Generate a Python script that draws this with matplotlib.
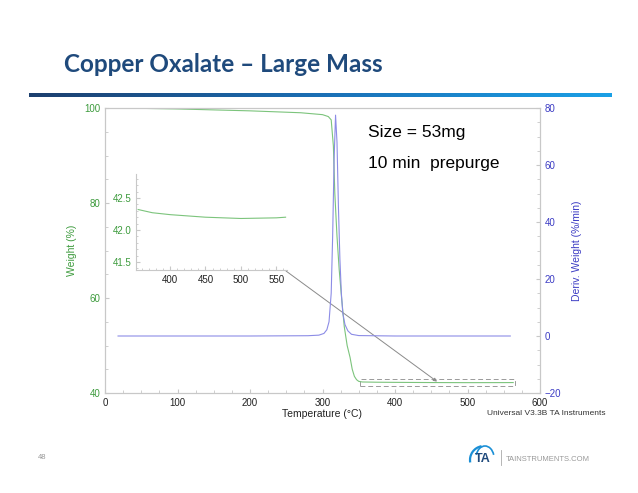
import numpy as np
import matplotlib
matplotlib.use("Agg")
import matplotlib.pyplot as plt
from matplotlib.ticker import MultipleLocator, FormatStrFormatter
from matplotlib.colors import LinearSegmentedColormap
from matplotlib.patches import Rectangle, Arc

# weight curve (%) vs temperature (C)
temp_w = [18, 100, 200, 270, 300, 308, 312, 315, 317, 320, 323, 326, 330, 334, 338,
          341, 344, 347, 350, 355, 375, 400, 450, 500, 550, 563]
weight = [100, 99.8, 99.4, 99.0, 98.6, 98.2, 97.5, 92, 82, 73, 66, 60.6, 54, 50, 47.5,
          45, 43.5, 42.8, 42.45, 42.32, 42.27, 42.24, 42.2, 42.18, 42.19, 42.2]

# derivative weight (%/min)
temp_d = [18, 100, 200, 280, 295, 302, 306, 309, 312, 314, 316, 318, 320, 322, 324,
          326, 328, 331, 335, 340, 350, 400, 500, 559]
deriv = [0, 0, 0, 0.1, 0.3, 0.9, 2.2, 5, 15, 35, 62, 77.5, 68, 45, 27,
         15, 8, 4, 1.8, 0.6, 0.15, 0, 0, 0]

# zoomed region (inset)
zoom_x = (352, 565)
zoom_y = (41.375, 42.875)

GREEN = "#3d9b3d"
BLUE = "#3c3cc4"
LGREEN = "#7cc47c"
LBLUE = "#8c8ce6"
SPINE = "#c8c8c8"
W, H = 638, 493

fig = plt.figure(figsize=(6.38, 4.93), dpi=100)
plt.rcParams['font.family'] = ['Liberation Sans', 'DejaVu Sans']

def fx(px):
    return px / W

def fy(py):
    return 1 - py / H

# title
fig.text(fx(64), fy(72), "Copper Oxalate \u2013 Large Mass", fontsize=17.5,
         fontweight="bold", color="#1f4a7c", family=["Lato", "DejaVu Sans"])

# gradient bar under the title
gax = fig.add_axes([fx(29), fy(97), fx(612 - 29), 4 / H])
cmap = LinearSegmentedColormap.from_list("bar", ["#1d3f6e", "#1a6fb5", "#1aa0e6"])
gax.imshow(np.linspace(0, 1, 256)[None, :], aspect="auto", cmap=cmap)
gax.axis("off")

# main axes
ax = fig.add_axes([fx(105), fy(393), fx(540 - 105), (393 - 108) / H])
ax.plot(temp_w, weight, color=LGREEN, lw=0.8)
ax.set_xlim(0, 600)
ax.set_ylim(40, 100)
ax.xaxis.set_major_locator(MultipleLocator(100))
ax.xaxis.set_minor_locator(MultipleLocator(25))
ax.yaxis.set_major_locator(MultipleLocator(20))
ax.yaxis.set_minor_locator(MultipleLocator(5))
ax.tick_params(axis="y", colors=SPINE, labelcolor=GREEN, labelsize=7, direction="in", length=3)
ax.tick_params(axis="y", which="minor", colors=SPINE, direction="in", length=2)
ax.tick_params(axis="x", colors=SPINE, labelcolor="#222222", labelsize=7, direction="in", length=3)
ax.tick_params(axis="x", which="minor", colors=SPINE, direction="in", length=2)
for s in ax.spines.values():
    s.set_color(SPINE)
    s.set_linewidth(0.8)
ax.set_xlabel("Temperature (\u00b0C)", fontsize=7.5, color="#222222", labelpad=1)
ax.set_ylabel("Weight (%)", fontsize=7.5, color=GREEN, labelpad=5)

# zoom box
ax.add_patch(Rectangle((zoom_x[0], zoom_y[0]), zoom_x[1] - zoom_x[0], zoom_y[1] - zoom_y[0],
                       fill=False, ls=(0, (5, 3)), lw=0.7, ec="#9a9a9a"))

# derivative axis
ax2 = ax.twinx()
ax2.plot(temp_d, deriv, color=LBLUE, lw=0.8)
ax2.set_ylim(-20, 80)
ax2.yaxis.set_major_locator(MultipleLocator(20))
ax2.yaxis.set_minor_locator(MultipleLocator(5))
ax2.tick_params(axis="y", colors=SPINE, labelcolor=BLUE, labelsize=7, direction="in", length=3)
ax2.tick_params(axis="y", which="minor", colors=SPINE, direction="in", length=2)
for s in ax2.spines.values():
    s.set_color(SPINE)
    s.set_linewidth(0.8)
ax2.set_ylabel("Deriv. Weight (%/min)", fontsize=7.5, color=BLUE, labelpad=8)

# inset
tw = np.array(temp_w)
ww = np.array(weight)
sel = (tw >= zoom_x[0]) & (tw <= zoom_x[1])
ins = fig.add_axes([fx(136), fy(270), fx(287 - 136), (270 - 174) / H])
ins.patch.set_alpha(0)
ins.plot(tw[sel], ww[sel], color=LGREEN, lw=0.8)
ins.set_xlim(*zoom_x)
ins.set_ylim(*zoom_y)
ins.spines["top"].set_visible(False)
ins.spines["right"].set_visible(False)
for s in ("left", "bottom"):
    ins.spines[s].set_color(SPINE)
    ins.spines[s].set_linewidth(0.8)
ins.xaxis.set_major_locator(MultipleLocator(50))
ins.xaxis.set_minor_locator(MultipleLocator(10))
ins.yaxis.set_major_locator(MultipleLocator(0.5))
ins.yaxis.set_minor_locator(MultipleLocator(0.1))
ins.tick_params(axis="y", colors=SPINE, labelcolor=GREEN, labelsize=7, direction="in", length=3)
ins.tick_params(axis="y", which="minor", colors=SPINE, direction="in", length=1.5)
ins.tick_params(axis="x", colors=SPINE, labelcolor="#222222", labelsize=7, direction="in", length=3)
ins.tick_params(axis="x", which="minor", colors=SPINE, direction="in", length=1.5)
ins.yaxis.set_major_formatter(FormatStrFormatter("%.1f"))

# connector from inset to zoom box
ax.annotate("", xy=(458, 42.4), xycoords="data",
            xytext=(fx(286), fy(271)), textcoords="figure fraction",
            arrowprops=dict(arrowstyle="-|>", color="#8a8a8a", lw=0.7,
                            mutation_scale=5, shrinkA=0, shrinkB=0))

# annotations
fig.text(fx(368), fy(137), "Size = 53mg", fontsize=12.5, color="black")
fig.text(fx(368), fy(168), "10 min  prepurge", fontsize=12.5, color="black")
fig.text(fx(487), fy(415), "Universal V3.3B TA Instruments", fontsize=6, color="#333333")

# footer
fig.text(fx(38), fy(459), "48", fontsize=5.5, color="#999999")
fig.text(fx(475), fy(462), "TA", fontsize=9, color="#1f4a7c", fontweight="bold")
lax = fig.add_axes([fx(465), fy(466), fx(30), 22 / H])
lax.set_xlim(0, 30)
lax.set_ylim(0, 22)
lax.add_patch(Arc((19, 6), 28, 28, theta1=100, theta2=190, color="#1a8fd6", lw=1.6))
lax.add_patch(Arc((20, 8), 18, 24, theta1=20, theta2=160, color="#1a8fd6", lw=1.2))
lax.axis("off")
fig.add_artist(plt.Line2D([fx(501), fx(501)], [fy(465), fy(450)], color="#aaaaaa", lw=0.6))
fig.text(fx(506), fy(461), "TAINSTRUMENTS.COM", fontsize=5.5, color="#999999")

fig.savefig("out.png", dpi=100)
